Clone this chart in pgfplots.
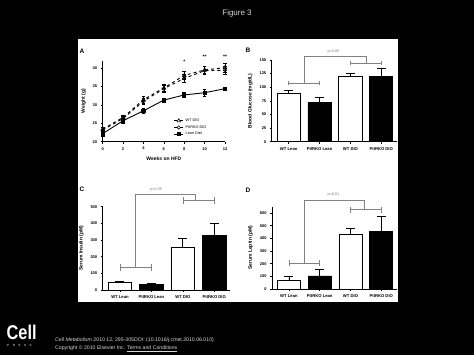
\documentclass[border=0pt]{standalone}
\usepackage{pgfplots}
\pgfplotsset{compat=1.18}
\usepackage{fontspec}
\setmainfont{Liberation Sans}
\definecolor{brk}{RGB}{130,130,130}
\pgfplotsset{
  panel/.style={
    scale only axis, axis lines=left, axis line style={-, line width=0.8bp},
    tick align=outside, major tick length=2bp,
    tick style={black, line width=0.6bp},
    ticklabel style={font=\fontsize{4}{4.5}\selectfont\bfseries},
    label style={font=\fontsize{5}{6}\selectfont\bfseries},
    /pgf/number format/assume math mode=true,
    clip=false,
  },
  barpanel/.style={
    panel, xmin=0.45, xmax=4.5, xtick={1,2,3,4},
    xticklabels={WT Lean,PtIRKO Lean,WT DIO,PtIRKO DIO},
    xticklabel style={font=\fontsize{4.2}{4.5}\selectfont\bfseries},
    ymin=0,
  },
  wbar/.style={ybar, bar shift=0pt, bar width=0.75, fill=white, draw=black, line width=0.9bp,
    error bars/.cd, y dir=plus, y explicit,
    error bar style={line width=0.8bp, black},
    error mark options={line width=0.8bp, mark size=4.5bp, black, rotate=90}},
  kbar/.style={ybar, bar shift=0pt, bar width=0.75, fill=black, draw=black, line width=0.9bp,
    error bars/.cd, y dir=plus, y explicit,
    error bar style={line width=0.8bp, black},
    error mark options={line width=0.8bp, mark size=4.5bp, black, rotate=90}},
  lerr/.style={error bars/.cd, y dir=both, y explicit,
    error bar style={line width=0.6bp, black, solid},
    error mark options={line width=0.6bp, mark size=1.8bp, black, rotate=90, solid}},
}
\begin{document}
\begin{tikzpicture}[x=1bp,y=1bp]
\useasboundingbox (0,0) rectangle (474,-355);
\fill[black] (0,0) rectangle (474,-355);
\fill[white] (77.5,-39) rectangle (398,-302);
\node[text=white!85!black, font=\fontsize{8}{9}\selectfont] at (237,-13) {Figure 3};

% Panel labels
\node[font=\fontsize{6.5}{7}\selectfont\bfseries] at (82,-51) {A};
\node[font=\fontsize{6.5}{7}\selectfont\bfseries] at (248,-50) {B};
\node[font=\fontsize{6.5}{7}\selectfont\bfseries] at (82,-189) {C};
\node[font=\fontsize{6.5}{7}\selectfont\bfseries] at (248,-190) {D};

% Panel A
\begin{axis}[panel, at={(102.7bp,-141.7bp)}, anchor=south west,
  width=122.3bp, height=81bp,
  xmin=0, xmax=12, xtick={0,2,...,12},
  ymin=20, ymax=42, ytick={20,25,...,40},
  xlabel={Weeks on HFD}, ylabel={Weight (g)},
  legend style={at={(axis description cs:0.58,0.31)}, anchor=north west,
    draw=none, fill=none, font=\fontsize{3.8}{4.5}\selectfont, row sep=-1.5bp,
    inner sep=0pt},
  legend cell align=left,
  legend image code/.code={\draw[#1] (0bp,0bp) -- (9bp,0bp); \draw[#1, solid] plot coordinates {(4.5bp,0bp)};},
]
\addplot[black, dashed, line width=0.9bp, mark=triangle, mark size=2.1bp, mark options={solid, fill=white, line width=0.6bp}, lerr]
  coordinates {(0,23.4) +- (0,0.6) (2,26.6) +- (0,0.7) (4,31.4) +- (0,0.9) (6,34.6) +- (0,1.0) (8,38.0) +- (0,1.0) (10,39.5) +- (0,1.0) (12,40.1) +- (0,1.2)};
\addlegendentry{WT DIO}
\addplot[black, dashed, line width=0.9bp, mark=o, mark size=1.7bp, mark options={solid, fill=white, line width=0.6bp}, lerr]
  coordinates {(0,23.2) +- (0,0.6) (2,26.3) +- (0,0.7) (4,31.0) +- (0,0.8) (6,34.4) +- (0,0.9) (8,37.2) +- (0,1.0) (10,39.3) +- (0,1.1) (12,39.4) +- (0,1.0)};
\addlegendentry{PtIRKO DIO}
\addplot[black, solid, line width=0.9bp, mark=square*, mark size=1.6bp, lerr]
  coordinates {(0,22.2) +- (0,0.8) (2,25.7) +- (0,0.7) (4,28.4) +- (0,0.7) (6,31.3) +- (0,0.5) (8,32.7) +- (0,0.6) (10,33.3) +- (0,1.0) (12,34.4) +- (0,0.4)};
\addlegendentry{Lean Diet}
\node[font=\fontsize{5}{5}\selectfont\bfseries] at (axis cs:8,41.6) {*};
\node[font=\fontsize{5}{5}\selectfont\bfseries] at (axis cs:10,43.0) {**};
\node[font=\fontsize{5}{5}\selectfont\bfseries] at (axis cs:12,43.0) {**};
\end{axis}

% Panel B
\begin{axis}[barpanel, at={(271.7bp,-141.7bp)}, anchor=south west,
  width=125bp, height=81.7bp, ymax=150, ytick={0,25,...,150},
  ylabel={Blood Glucose (mg/dL)}]
\addplot[wbar] coordinates {(1,88) +- (0,7) (3,120) +- (0,5)};
\addplot[kbar] coordinates {(2,72) +- (0,9) (4,119) +- (0,16)};
\draw[brk, line width=0.6bp] (axis cs:1,108) -- (axis cs:2,108);
\draw[brk, line width=0.6bp] (axis cs:1,104.5) -- (axis cs:1,111.5);
\draw[brk, line width=0.6bp] (axis cs:2,104.5) -- (axis cs:2,111.5);
\draw[brk, line width=0.6bp] (axis cs:3,144) -- (axis cs:4,144);
\draw[brk, line width=0.6bp] (axis cs:3,140.5) -- (axis cs:3,147.5);
\draw[brk, line width=0.6bp] (axis cs:4,140.5) -- (axis cs:4,147.5);
\draw[brk, line width=0.6bp] (axis cs:1.5,108) -- (axis cs:1.5,156) -- (axis cs:3.5,156) -- (axis cs:3.5,144);
\node[brk, font=\fontsize{3.8}{4}\selectfont, anchor=south] at (axis cs:2.45,156.5) {p=0.05};
\end{axis}

% Panel C
\begin{axis}[barpanel, at={(102.7bp,-290bp)}, anchor=south west,
  width=127.3bp, height=83.3bp, ymax=500, ytick={0,100,...,500},
  ylabel={Serum Insulin (pM)}]
\addplot[wbar] coordinates {(1,44) +- (0,5) (3,256) +- (0,54)};
\addplot[kbar] coordinates {(2,36) +- (0,4) (4,326) +- (0,74)};
\draw[brk, line width=0.6bp] (axis cs:1,136) -- (axis cs:2,136);
\draw[brk, line width=0.6bp] (axis cs:1,115) -- (axis cs:1,157);
\draw[brk, line width=0.6bp] (axis cs:2,115) -- (axis cs:2,157);
\draw[brk, line width=0.6bp] (axis cs:3,536) -- (axis cs:4,536);
\draw[brk, line width=0.6bp] (axis cs:3,515) -- (axis cs:3,557);
\draw[brk, line width=0.6bp] (axis cs:4,515) -- (axis cs:4,557);
\draw[brk, line width=0.6bp] (axis cs:1.5,136) -- (axis cs:1.5,572) -- (axis cs:3.4,572) -- (axis cs:3.4,536);
\node[brk, font=\fontsize{3.8}{4}\selectfont, anchor=south] at (axis cs:2.15,574) {p=0.05};
\end{axis}

% Panel D
\begin{axis}[barpanel, at={(272bp,-289bp)}, anchor=south west,
  width=124.7bp, height=82.3bp, ymax=650, ytick={0,100,...,600},
  ylabel={Serum Leptin (pM)}]
\addplot[wbar] coordinates {(1,71) +- (0,27) (3,428) +- (0,53)};
\addplot[kbar] coordinates {(2,103) +- (0,53) (4,455) +- (0,118)};
\draw[brk, line width=0.6bp] (axis cs:1,204) -- (axis cs:2,204);
\draw[brk, line width=0.6bp] (axis cs:1,180) -- (axis cs:1,228);
\draw[brk, line width=0.6bp] (axis cs:2,180) -- (axis cs:2,228);
\draw[brk, line width=0.6bp] (axis cs:3,626) -- (axis cs:4,626);
\draw[brk, line width=0.6bp] (axis cs:3,602) -- (axis cs:3,650);
\draw[brk, line width=0.6bp] (axis cs:4,602) -- (axis cs:4,650);
\draw[brk, line width=0.6bp] (axis cs:1.5,204) -- (axis cs:1.5,700) -- (axis cs:3.45,700) -- (axis cs:3.45,626);
\node[brk, font=\fontsize{3.8}{4}\selectfont, anchor=south] at (axis cs:2.45,702) {p=0.01};
\end{axis}

% Cell Press logo
\node[anchor=south west, text=white, font=\fontsize{20}{20}\selectfont\bfseries, inner sep=0pt, xscale=0.82] at (6.5,-340) {Cell};
\node[anchor=west, text=white, font=\fontsize{3}{3}\selectfont, inner sep=0pt] at (7,-345) {P\hspace{3.6bp}R\hspace{3.6bp}E\hspace{3.6bp}S\hspace{3.6bp}S};

% Caption
\node[anchor=west, text=white!85!black, font=\fontsize{5.2}{6}\selectfont, inner sep=0pt] at (55,-340.5)
  {\textit{Cell Metabolism} 2010 12, 295-305DOI: (10.1016/j.cmet.2010.06.010)};
\node[anchor=west, text=white!85!black, font=\fontsize{5.2}{6}\selectfont, inner sep=0pt] at (55,-349)
  {Copyright \textcopyright{} 2010 Elsevier Inc. \underline{Terms and Conditions}};
\end{tikzpicture}
\end{document}
